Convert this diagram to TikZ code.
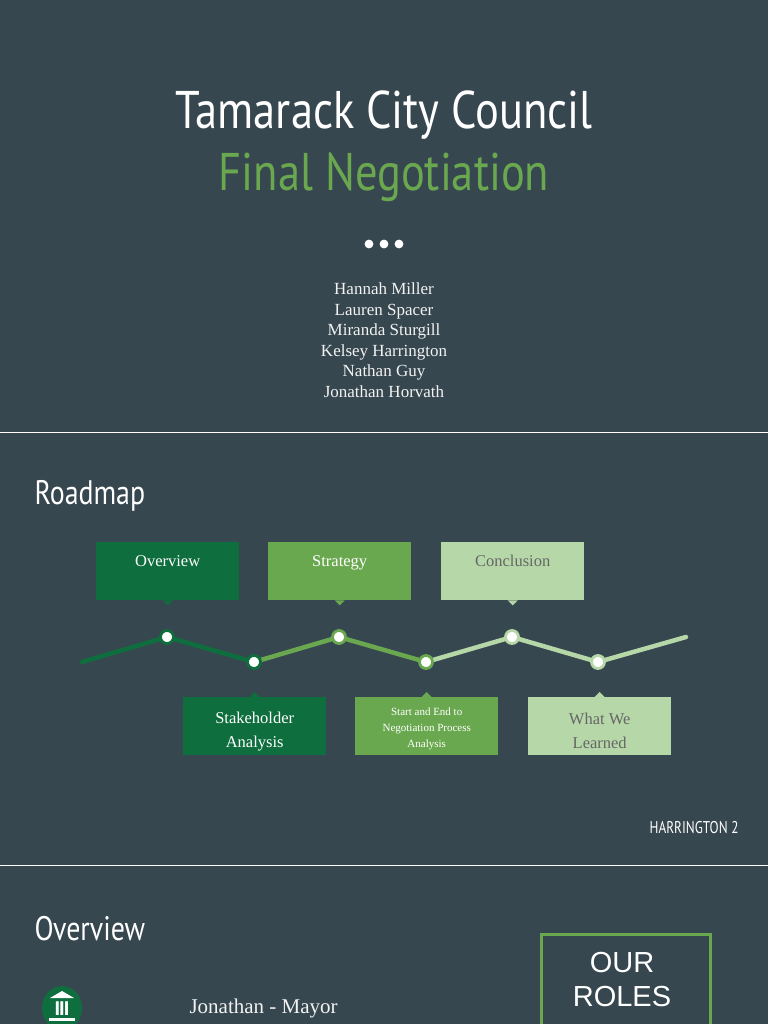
\documentclass[tikz,border=0pt]{standalone}
\usepackage{fontspec}
\usetikzlibrary{calc}
\setmainfont{Liberation Serif}
\newfontfamily\cond{PT Sans}
\newfontfamily\arial{Liberation Sans}
\definecolor{bg}{HTML}{37474F}
\definecolor{gd}{HTML}{0E6E3E}
\definecolor{gm}{HTML}{6AA84F}
\definecolor{gl}{HTML}{B6D7A8}
\newcommand{\cn}[3]{\scalebox{#3}[1]{\fontsize{#1}{#1}\cond #2}}
\begin{document}
\begin{tikzpicture}[x=1pt,y=-1pt,
  tbox/.style={minimum width=143pt,minimum height=58pt,inner sep=2pt,align=center,font=\fontsize{16.5}{24}\selectfont},
  dot/.style={circle,fill=white,draw=#1,line width=2.8pt,inner sep=0pt,minimum size=13pt},
  seg/.style={line width=4.5pt,#1}]
\fill[bg] (0,0) rectangle (768,1024);
\useasboundingbox (0,0) rectangle (768,1024);
\draw[white,line width=1pt] (0,432.5) -- (768,432.5);
\draw[white,line width=1pt] (0,865.5) -- (768,865.5);
% slide 1
\node[white] (t1) at (384,115) {\cn{53}{Tamarack City Council}{0.84}};
\node[gm] (t2) at (384,177) {\cn{53}{Final Negotiation}{0.84}};
\foreach \x [count=\i] in {369,384,399} \fill[white] (\x,244) circle (4.4) coordinate (d\i);
\node[white!90!gray,align=center,font=\fontsize{17}{20.5}\selectfont] (names) at (384,340)
 {Hannah Miller\\Lauren Spacer\\Miranda Sturgill\\Kelsey Harrington\\Nathan Guy\\Jonathan Horvath};
% slide 2
\node[white,anchor=west] (rm) at (31,496) {\cn{34}{Roadmap}{0.82}};
\node[tbox,fill=gd,text=white,anchor=north west,text depth=20pt] (b1) at (96,542) {Overview};
\node[tbox,fill=gm,text=white,anchor=north west,text depth=20pt] (b2) at (268,542) {Strategy};
\node[tbox,fill=gl,text=gray!80!black,anchor=north west,text depth=20pt] (b3) at (441,542) {Conclusion};
\node[tbox,fill=gd,anchor=north west] (b4) at (183,697) {};
\node[tbox,fill=gm,anchor=north west] (b5) at (355,697) {};
\node[tbox,fill=gl,anchor=north west] (b6) at (528,697) {};
\node[tbox,text=white,minimum height=0pt] (b4t) at ($(b4.center)+(0,5)$) {Stakeholder\\Analysis};
\node[tbox,text=white,minimum height=0pt,font=\fontsize{11}{16}\selectfont] (b5t) at ($(b5.center)+(0,3)$) {Start and End to\\Negotiation Process\\Analysis};
\node[tbox,text=gray!80!black,minimum height=0pt] (b6t) at ($(b6.center)+(0,5)$) {What We\\Learned};
\fill[gd] ($(b1.south)+(-5,0)$) -- ++(10,0) -- ++(-5,5) -- cycle;
\fill[gm] ($(b2.south)+(-5,0)$) -- ++(10,0) -- ++(-5,5) -- cycle;
\fill[gl] ($(b3.south)+(-5,0)$) -- ++(10,0) -- ++(-5,5) -- cycle;
\fill[gd] ($(b4.north)+(-5,0)$) -- ++(10,0) -- ++(-5,-5) -- cycle;
\fill[gm] ($(b5.north)+(-5,0)$) -- ++(10,0) -- ++(-5,-5) -- cycle;
\fill[gl] ($(b6.north)+(-5,0)$) -- ++(10,0) -- ++(-5,-5) -- cycle;
\coordinate (p0) at (82,662);
\coordinate (p1) at (167,637);
\coordinate (p2) at (254,662);
\coordinate (p3) at (339,637);
\coordinate (p4) at (426,662);
\coordinate (p5) at (512,637);
\coordinate (p6) at (598,662);
\coordinate (p7) at (686,637);
\draw[seg=gd,line cap=round] (p0) -- (p1) -- (p2);
\draw[seg=gm] (p2) -- (p3) -- (p4);
\draw[seg=gl,line cap=round] (p4) -- (p5) -- (p6) -- (p7);
\node[dot=gd] (n1) at (p1) {};
\node[dot=gd] (n2) at (p2) {};
\node[dot=gm] (n3) at (p3) {};
\node[dot=gm] (n4) at (p4) {};
\node[dot=gl] (n5) at (p5) {};
\node[dot=gl] (n6) at (p6) {};
\node[white,anchor=east] (hr) at (742,828) {\cn{17}{HARRINGTON 2}{0.78}};
% slide 3
\node[white,anchor=west] (ov) at (31,929) {\cn{34}{Overview}{0.82}};
\fill[gd] (62,1008) ellipse (20 and 22);
\node[white,font=\fontsize{20}{20}\selectfont] (ic) at (62,1009) {\arial\textbf{\char"0049\kern-1pt\char"0049\kern-1pt\char"0049}};
\fill[white] (50,998) -- (62,991) -- (74,998) -- cycle;
\fill[white] (49,1018) rectangle (75,1021);
\node[white!90!gray,anchor=west,font=\fontsize{21}{21}\selectfont] (jm) at (186,1008) {Jonathan - Mayor};
\draw[gm,line width=3pt] (541,1030) |- (710,934) -- (710,1030);
\node[white,align=center,font=\arial\fontsize{29}{34}\selectfont] (roles) at (622,980) {OUR\\ROLES};
\end{tikzpicture}
\end{document}
